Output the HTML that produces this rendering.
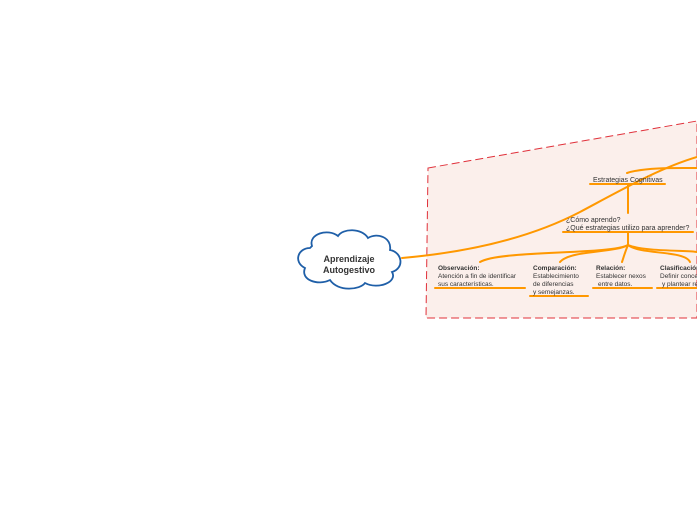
<!DOCTYPE html>
<html><head><meta charset="utf-8"><style>
html,body{margin:0;padding:0;background:#fff;width:697px;height:520px;overflow:hidden}
svg{display:block}
text{font-family:"Liberation Sans",sans-serif;fill:#333}
</style></head><body>
<svg width="697" height="520" viewBox="0 0 697 520">
<polygon points="428,168 697,121 697,318 426,318" fill="#fbefeb" stroke="#e0303a" stroke-width="1" stroke-dasharray="8,4"/>
<g fill="none" stroke="#ff9800" stroke-width="2" stroke-linecap="round">
<path d="M402,258 C470,252 530,238 580,212 C625,188 660,168 697,157"/>
<path d="M627,173 C645,167 680,168 697,168"/>
<line x1="590" y1="184" x2="665" y2="184"/>
<line x1="628" y1="184" x2="628" y2="213"/>
<line x1="563" y1="232" x2="693" y2="232"/>
<line x1="628" y1="232" x2="628" y2="245"/>
<path d="M628,245 C610,255 500,250 480,262"/>
<path d="M628,245 C615,253 570,250 560,262"/>
<path d="M628,245 C625,252 624,256 622,262"/>
<path d="M628,245 C640,255 685,250 690,262"/>
<path d="M628,245 C645,252 690,250 697,252"/>
<line x1="435" y1="288" x2="525" y2="288"/>
<line x1="530" y1="296" x2="588" y2="296"/>
<line x1="593" y1="288" x2="652" y2="288"/>
<line x1="657" y1="288" x2="697" y2="288"/>
</g>
<path d="M310,248 C298,248 293,262 305,268 C300,280 318,286 330,280 C338,292 360,290 365,283 C378,290 398,282 392,272 C405,268 402,252 390,250 C392,238 378,232 368,238 C362,228 343,228 338,236 C328,228 308,234 312,246 Z" fill="#fff" stroke="#1f5fa8" stroke-width="1.8"/>
<text x="349" y="262" font-size="9" font-weight="bold" text-anchor="middle" fill="#666">Aprendizaje</text>
<text x="349" y="273" font-size="9" font-weight="bold" text-anchor="middle" fill="#666">Autogestivo</text>
<text x="593" y="182" font-size="7">Estrategias Cognitivas</text>
<text x="566" y="222" font-size="7">¿Cómo aprendo?</text>
<text x="566" y="230" font-size="7">¿Qué estrategias utilizo para aprender?</text>
<g font-size="6.5">
<text x="438" y="270" font-weight="bold">Observación:</text>
<text x="438" y="278">Atención a fin de identificar</text>
<text x="438" y="286">sus características.</text>
<text x="533" y="270" font-weight="bold">Comparación:</text>
<text x="533" y="278">Establecimiento</text>
<text x="533" y="286">de diferencias</text>
<text x="533" y="294">y semejanzas.</text>
<text x="596" y="270" font-weight="bold">Relación:</text>
<text x="596" y="278">Establecer nexos</text>
<text x="598" y="286">entre datos.</text>
<text x="660" y="270" font-weight="bold">Clasificación:</text>
<text x="660" y="278">Definir conceptos</text>
<text x="662" y="286">y plantear relaciones</text>
</g>
</svg>
</body></html>
